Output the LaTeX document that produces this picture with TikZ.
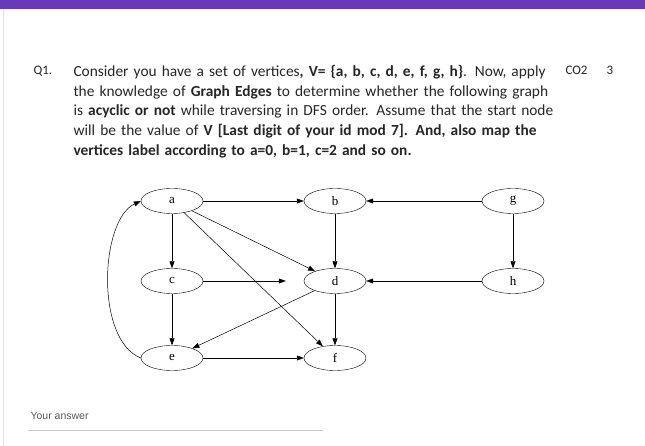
\documentclass[tikz,border=0pt]{standalone}
\usepackage{fontspec}
\setmainfont{Carlito}
\usetikzlibrary{arrows.meta,shapes.geometric}
\begin{document}
\begin{tikzpicture}[x=1pt,y=-1pt,
 vtx/.style={draw,ellipse,minimum width=62pt,minimum height=25pt,inner sep=0pt,font=\fontspec{Liberation Serif}\fontsize{13}{13}\selectfont},
 edge/.style={draw,-{Triangle[length=7pt,width=5pt]},line width=0.5pt},
 qtext/.style={anchor=north west,align=left,font=\fontsize{15.4}{19.6}\selectfont,text=black!85}]
\useasboundingbox[fill=white] (0,0) rectangle (645,446);
\fill[fill={rgb,255:red,103;green,58;blue,183}] (0,0) rectangle (645,9);
\draw[color={rgb,255:red,225;green,225;blue,235}] (3,9) -- (3,446);
\node[qtext,font=\fontsize{13}{19.6}\selectfont] (q) at (30,63) {Q1.};
\node[qtext,text width=500pt] (body) at (70,62) {Consider you have a set of vertices\textbf{, V= \{a, b, c, d, e, f, g, h\}}. Now, apply\\
the knowledge of \textbf{Graph Edges} to determine whether the following graph\\
is \textbf{acyclic or not} while traversing in DFS order. Assume that the start node\\
will be the value of \textbf{V [Last digit of your id mod 7]. And, also map the}\\
\textbf{vertices label according to a=0, b=1, c=2 and so on.}};
\node[qtext,font=\fontsize{13}{19.6}\selectfont] (co) at (562,63) {CO2};
\node[qtext,font=\fontsize{13}{19.6}\selectfont] (mk) at (603,63) {3};
\node (a) [vtx] at (172,201) {a};
\node (b) [vtx] at (335,201) {b};
\node (g) [vtx] at (513,201) {g};
\node (c) [vtx] at (172,281) {c};
\node (d) [vtx] at (335,281) {d};
\node (h) [vtx] at (513,281) {h};
\node (e) [vtx] at (172,358) {e};
\node (f) [vtx] at (335,358) {f};
\draw[edge] (a) -- (b);
\draw[edge] (g) -- (b);
\draw[edge] (a) -- (c);
\draw[edge] (b) -- (d);
\draw[edge] (g) -- (h);
\draw[edge] (h) -- (d);
\draw[edge] (a) -- (d);
\draw[edge] (a) -- (f);
\draw[edge,shorten >=18pt] (c) -- (d);
\draw[edge] (c) -- (e);
\draw[edge] (d) -- (e);
\draw[edge] (d) -- (f);
\draw[edge] (e) -- (f);
\draw[edge] (e.west) .. controls (95,340) and (100,220) .. (a.west);
\node[anchor=west,font=\fontspec{Liberation Sans}\fontsize{10.5}{12}\selectfont,text=black!65] (ya) at (27,416) {Your answer};
\draw[black!20] (28,430) -- (323,430);
\end{tikzpicture}
\end{document}
